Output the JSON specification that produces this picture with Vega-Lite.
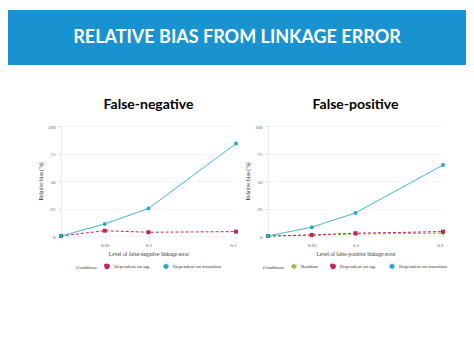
{
  "$schema": "https://vega.github.io/schema/vega-lite/v6.json",
  "background": "white",
  "padding": {"left": 8, "top": 10, "right": 8, "bottom": 0},
  "datasets": {
    "fn": [
      {"level": 0, "bias": 0, "condition": "Dependent on age"},
      {"level": 0.05, "bias": 4.8, "condition": "Dependent on age"},
      {"level": 0.1, "bias": 3.4, "condition": "Dependent on age"},
      {"level": 0.2, "bias": 4.0, "condition": "Dependent on age"},
      {"level": 0, "bias": 0, "condition": "Dependent on transition"},
      {"level": 0.05, "bias": 11, "condition": "Dependent on transition"},
      {"level": 0.1, "bias": 25, "condition": "Dependent on transition"},
      {"level": 0.2, "bias": 84, "condition": "Dependent on transition"}
    ],
    "fp": [
      {"level": 0, "bias": 0, "condition": "Random"},
      {"level": 0.05, "bias": 0.6, "condition": "Random"},
      {"level": 0.1, "bias": 1.8, "condition": "Random"},
      {"level": 0.2, "bias": 2.5, "condition": "Random"},
      {"level": 0, "bias": 0, "condition": "Dependent on age"},
      {"level": 0.05, "bias": 1.0, "condition": "Dependent on age"},
      {"level": 0.1, "bias": 2.5, "condition": "Dependent on age"},
      {"level": 0.2, "bias": 4.0, "condition": "Dependent on age"},
      {"level": 0, "bias": 0, "condition": "Dependent on transition"},
      {"level": 0.05, "bias": 8, "condition": "Dependent on transition"},
      {"level": 0.1, "bias": 21, "condition": "Dependent on transition"},
      {"level": 0.2, "bias": 64.5, "condition": "Dependent on transition"}
    ],
    "banner": [{"t": "RELATIVE BIAS FROM LINKAGE ERROR"}]
  },
  "spacing": 33,
  "vconcat": [
    {
      "width": 458,
      "height": 55,
      "view": {"fill": "#1993cf", "stroke": null},
      "data": {"name": "banner"},
      "mark": {"type": "text", "font": "Lato", "fontWeight": "bold", "fontSize": 18, "color": "white"},
      "encoding": {"text": {"field": "t"}}
    },
    {
      "spacing": 7,
      "hconcat": [
        {
          "width": 23,
          "height": 10,
          "data": {"values": []},
          "mark": {"type": "point", "opacity": 0},
          "encoding": {}
        },
        {
          "title": {"text": "False-negative", "font": "Lato", "fontSize": 14, "fontWeight": "bold", "color": "black", "offset": 12},
          "width": 175,
          "height": 110,
          "data": {"name": "fn"},
          "mark": {"type": "line", "strokeWidth": 1, "point": {"filled": true, "size": 16}},
          "encoding": {
            "x": {"field": "level", "type": "quantitative", "scale": {"domain": [0, 0.2], "nice": false, "zero": true},
              "axis": {"values": [0.05, 0.1, 0.2], "format": ".2~f", "title": "Level of false-negative linkage error", "grid": false, "domain": false}},
            "y": {"field": "bias", "type": "quantitative", "scale": {"domain": [0, 100], "nice": false},
              "axis": {"values": [0, 25, 50, 75, 100], "title": "Relative bias (%)"}},
            "color": {"field": "condition", "type": "nominal", "title": "Condition:",
              "scale": {"domain": ["Dependent on age", "Dependent on transition"], "range": ["#c2255c", "#2aa8c8"]}},
            "strokeDash": {"field": "condition", "type": "nominal", "title": "Condition:",
              "scale": {"domain": ["Dependent on age", "Dependent on transition"], "range": [[3, 2], [1, 0]]}},
            "shape": {"field": "condition", "type": "nominal", "title": "Condition:",
              "scale": {"domain": ["Dependent on age", "Dependent on transition"], "range": ["square", "circle"]}}
          }
        },
        {
          "title": {"text": "False-positive", "font": "Lato", "fontSize": 14, "fontWeight": "bold", "color": "black", "offset": 12},
          "width": 175,
          "height": 110,
          "data": {"name": "fp"},
          "mark": {"type": "line", "strokeWidth": 1, "point": {"filled": true, "size": 16}},
          "encoding": {
            "x": {"field": "level", "type": "quantitative", "scale": {"domain": [0, 0.2], "nice": false, "zero": true},
              "axis": {"values": [0.05, 0.1, 0.2], "format": ".2~f", "title": "Level of false-positive linkage error", "grid": false, "domain": false}},
            "y": {"field": "bias", "type": "quantitative", "scale": {"domain": [0, 100], "nice": false},
              "axis": {"values": [0, 25, 50, 75, 100], "title": "Relative bias (%)"}},
            "color": {"field": "condition", "type": "nominal", "title": "Condition:",
              "scale": {"domain": ["Random", "Dependent on age", "Dependent on transition"], "range": ["#8fbc3f", "#c2255c", "#2aa8c8"]}},
            "strokeDash": {"field": "condition", "type": "nominal", "title": "Condition:",
              "scale": {"domain": ["Random", "Dependent on age", "Dependent on transition"], "range": [[3, 2], [3, 2], [1, 0]]}},
            "shape": {"field": "condition", "type": "nominal", "title": "Condition:",
              "scale": {"domain": ["Random", "Dependent on age", "Dependent on transition"], "range": ["cross", "square", "circle"]}}
          }
        }
      ],
      "resolve": {"scale": {"color": "independent", "strokeDash": "independent", "shape": "independent"}, "legend": {"color": "independent", "strokeDash": "independent", "shape": "independent"}}
    }
  ],
  "config": {
    "view": {"stroke": null},
    "axis": {
      "labelFont": "Liberation Serif", "labelFontSize": 5, "labelColor": "#555",
      "titleFont": "Liberation Serif", "titleFontSize": 5.5, "titleFontWeight": "normal", "titleColor": "#333",
      "gridColor": "#eeeeee", "gridWidth": 0.6, "tickColor": "#cccccc", "tickSize": 3, "tickWidth": 0.6,
      "domainColor": "#dddddd", "domainWidth": 0.6, "labelPadding": 3, "titlePadding": 4
    },
    "legend": {
      "orient": "bottom", "direction": "horizontal", "titleOrient": "left",
      "titleFont": "Liberation Serif", "titleFontSize": 5, "titleFontWeight": "normal", "titleColor": "#333",
      "labelFont": "Liberation Serif", "labelFontSize": 5, "labelColor": "#333",
      "symbolSize": 20, "symbolStrokeWidth": 1, "columnPadding": 10, "offset": 6, "titlePadding": 6,
      "layout": {"bottom": {"anchor": "middle"}}
    }
  }
}
